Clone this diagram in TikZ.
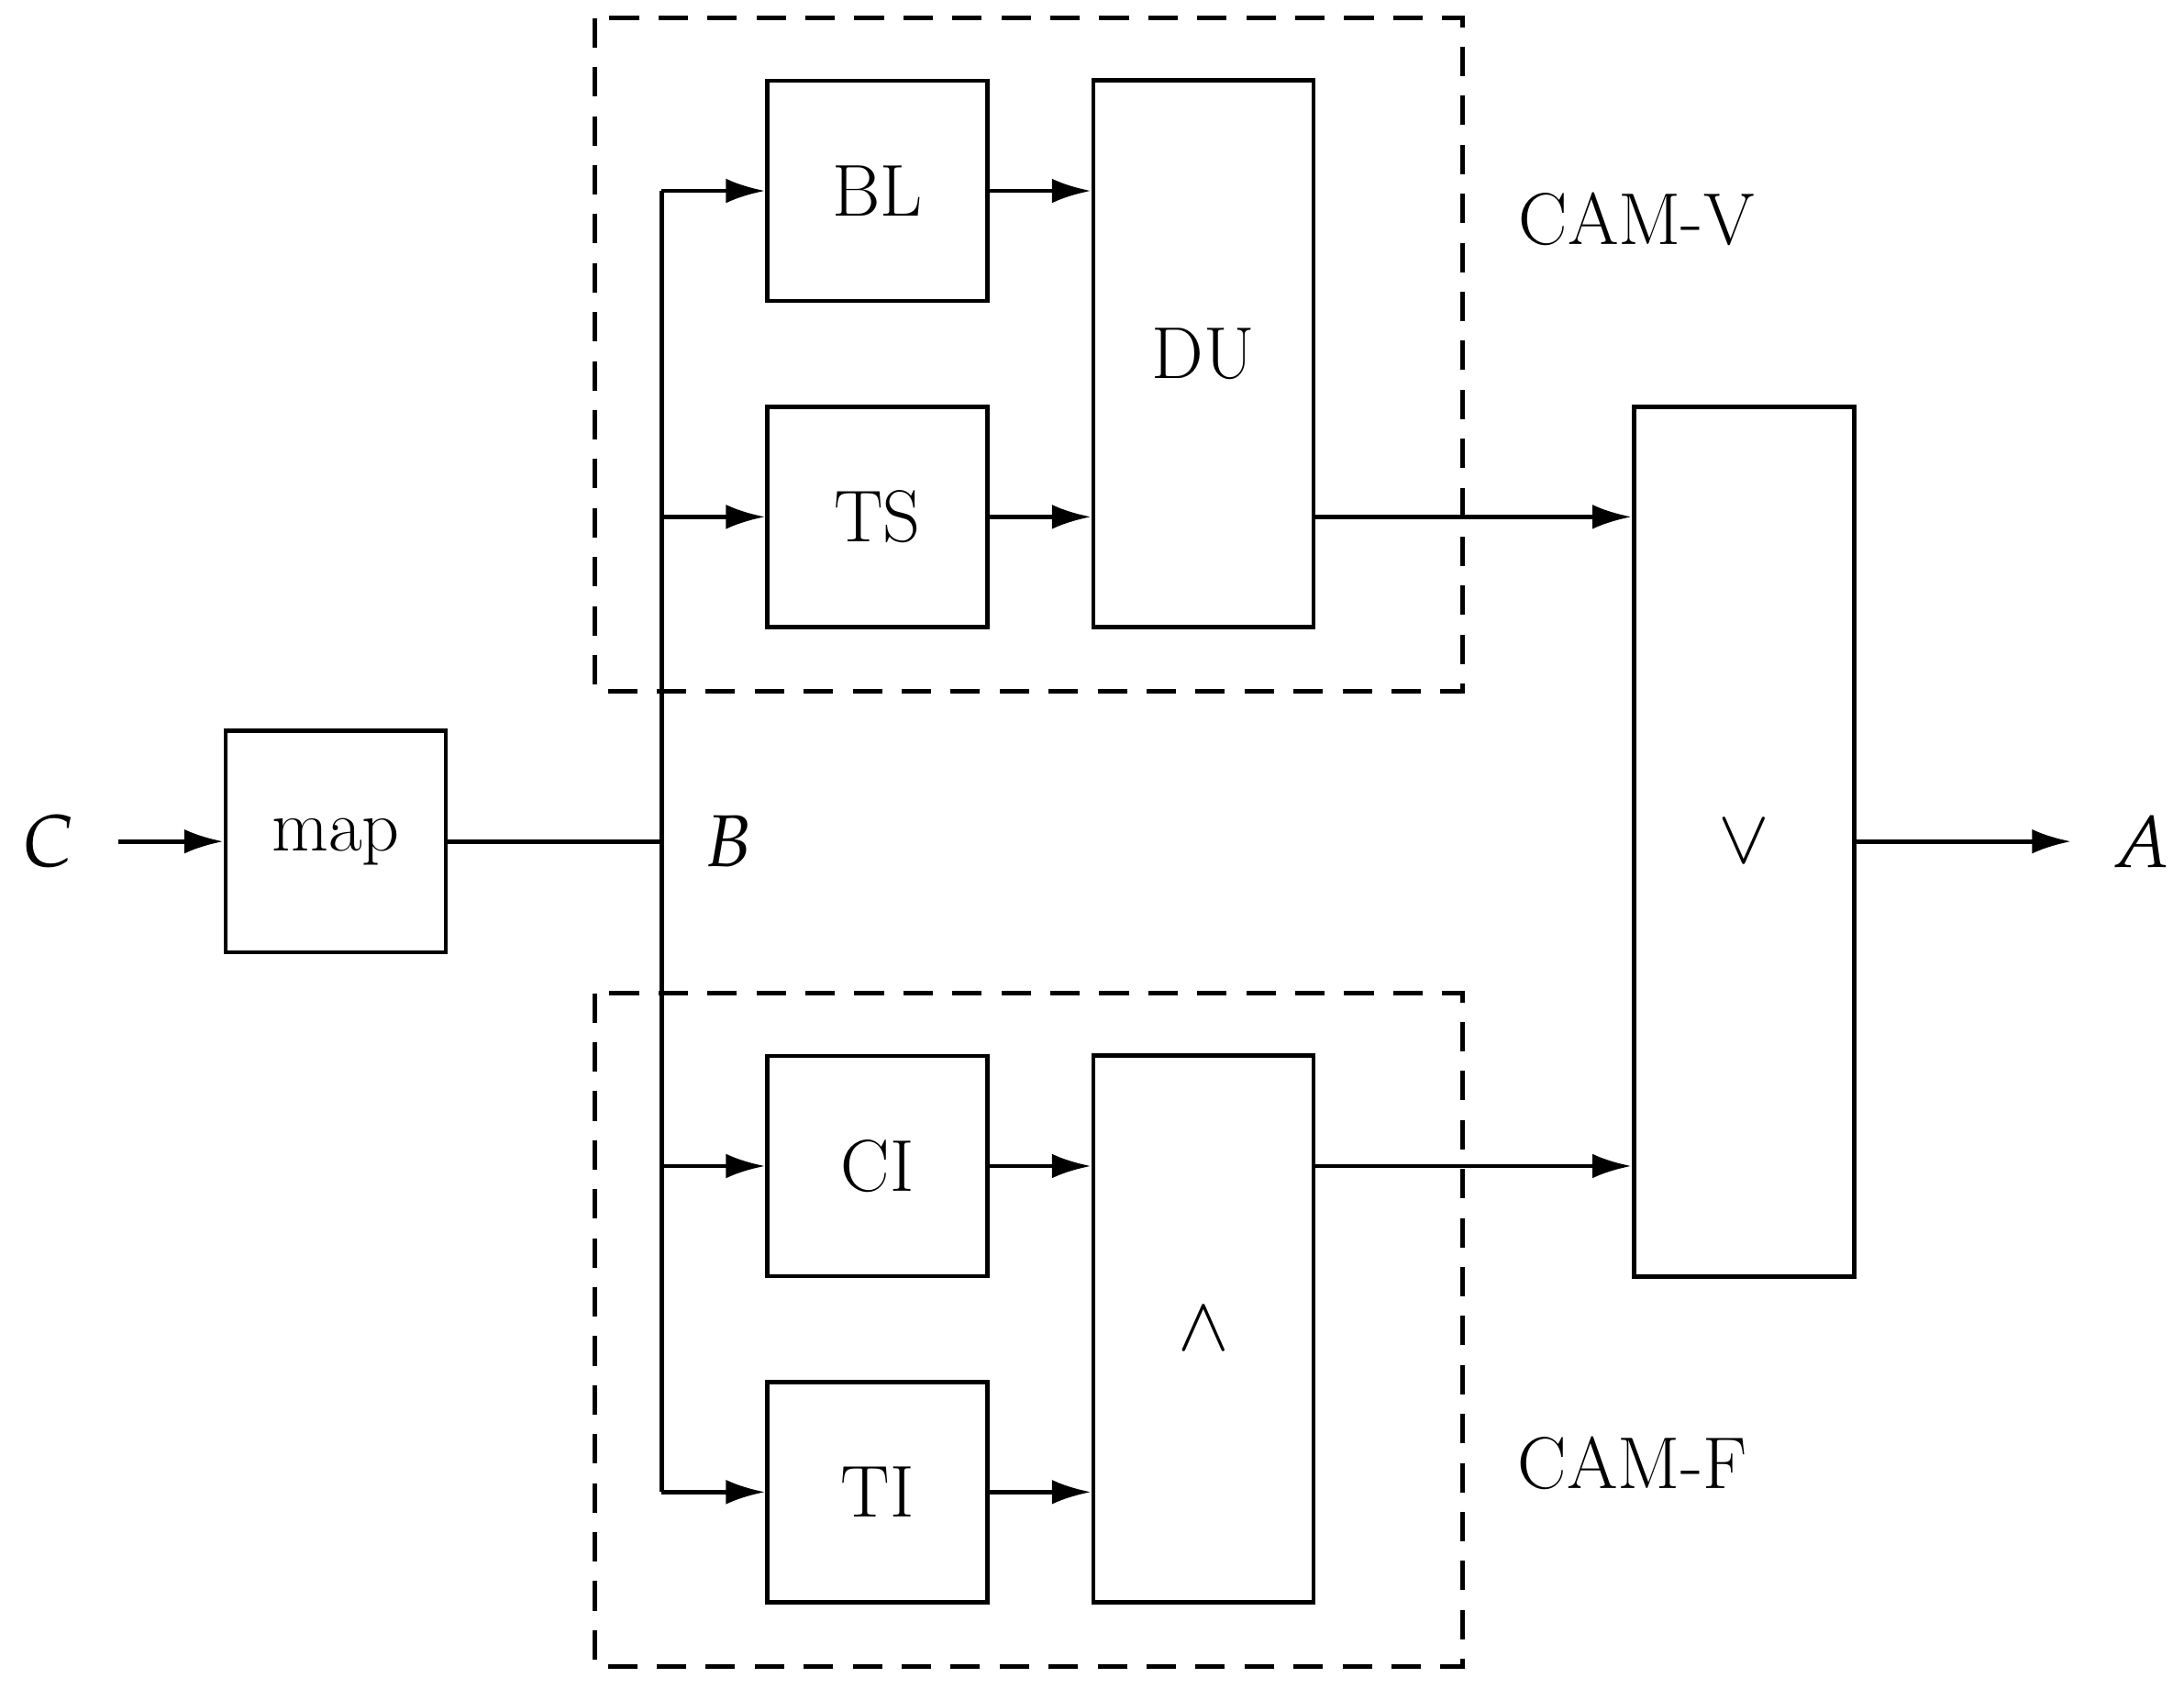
\documentclass[tikz,border=0pt]{standalone}
\usepackage{mathpazo}
\usetikzlibrary{arrows.meta}
\begin{document}
\begin{tikzpicture}[x=0.01cm,y=-0.01cm,line width=0.9pt,
  every node/.style={font=\fontsize{15}{18}\selectfont},
  box/.style={draw,rectangle,inner sep=0pt,minimum width=1.58cm},
  arr/.style={-{Latex[length=8pt,width=5pt]}},
  dbox/.style={draw,dash pattern=on 6pt off 4pt}]
\useasboundingbox (0,0) rectangle (1568,1212);
\draw[dbox] (427,13) rectangle (1050,496);
\draw[dbox] (427,713) rectangle (1050,1196);
\node[box,minimum height=1.59cm] (map) at (241,604) {map};
\node[box,minimum height=1.58cm] (BL) at (630,137) {BL};
\node[box,minimum height=1.58cm] (TS) at (630,371) {TS};
\node[box,minimum height=3.92cm] (DU) at (864,254) {DU};
\node[box,minimum height=1.58cm] (CI) at (630,837) {CI};
\node[box,minimum height=1.58cm] (TI) at (630,1071) {TI};
\node[box,minimum height=3.92cm] (AND) at (864,954) {$\wedge$};
\node[box,minimum height=6.24cm] (OR) at (1252,604) {$\vee$};
\node (C) at (35,604) {$C$};
\node (B) at (523,604) {$B$};
\node (A) at (1537,604) {$A$};
\node at (1175,157) {CAM-V};
\node at (1172,1050) {CAM-F};
\coordinate (cin) at (85,604);
\coordinate (aout) at (1487,604);
\coordinate (bus) at (475,604);
\coordinate (bt) at (475,137);
\coordinate (bb) at (475,1071);
\draw[arr] (cin) -- (map);
\draw (map) -- (bus);
\draw (bt) -- (bb);
\draw[arr] (bt) -- (BL);
\draw[arr] (475,371) -- (TS);
\draw[arr] (475,837) -- (CI);
\draw[arr] (bb) -- (TI);
\draw[arr] (BL.east) -- (DU.west |- BL.east);
\draw[arr] (TS.east) -- (DU.west |- TS.east);
\draw[arr] (CI.east) -- (AND.west |- CI.east);
\draw[arr] (TI.east) -- (AND.west |- TI.east);
\draw[arr] (DU.east |- TS.east) -- (OR.west |- TS.east);
\draw[arr] (AND.east |- CI.east) -- (OR.west |- CI.east);
\draw[arr] (OR.east) -- (aout);
\end{tikzpicture}
\end{document}
